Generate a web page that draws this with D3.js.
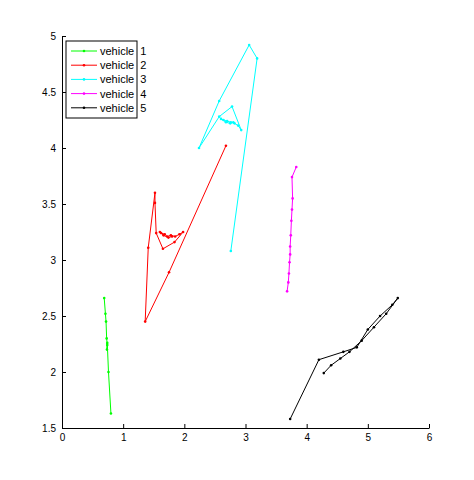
<!DOCTYPE html><html><head><script src="https://cdn.jsdelivr.net/npm/d3@7"></script>
<style>body{margin:0;background:#fff}text{font-family:"Liberation Sans",Arial,sans-serif;white-space:pre}</style></head><body>
<script>
const names=["vehicle  1","vehicle  2","vehicle  3","vehicle  4","vehicle  5"];
const colors=["#00ff00","#ff0000","#00ffff","#ff00ff","#000000"];
const v1=[[0.69,2.66],[0.71,2.52],[0.72,2.45],[0.73,2.30],[0.74,2.24],[0.735,2.20],[0.74,2.26],[0.76,2.0],[0.80,1.63]];
const v2=[[2.68,4.02],[1.75,2.89],[1.36,2.45],[1.41,3.11],[1.52,3.60],[1.52,3.51],[1.54,3.24],[1.65,3.10],[1.84,3.16],[1.98,3.25],[1.92,3.23],[1.85,3.21],[1.78,3.22],[1.72,3.21],[1.68,3.23],[1.62,3.24],[1.60,3.25],[1.66,3.22],[1.74,3.20],[1.80,3.21]];
const v3=[[2.76,3.08],[3.19,4.80],[3.06,4.92],[2.57,4.42],[2.24,4.00],[2.57,4.28],[2.78,4.37],[2.93,4.16],[2.88,4.20],[2.82,4.22],[2.76,4.23],[2.70,4.24],[2.64,4.25],[2.60,4.26],[2.68,4.23],[2.75,4.22],[2.80,4.23]];
const v4=[[3.83,3.83],[3.76,3.74],[3.77,3.55],[3.76,3.45],[3.75,3.35],[3.74,3.22],[3.73,3.12],[3.73,3.05],[3.72,2.98],[3.71,2.88],[3.70,2.80],[3.68,2.72]];
const v5=[[3.73,1.58],[4.20,2.11],[4.60,2.18],[4.82,2.22],[5.00,2.38],[5.20,2.50],[5.40,2.60],[5.49,2.66],[5.30,2.52],[5.10,2.40],[4.90,2.28],[4.70,2.18],[4.55,2.12],[4.40,2.06],[4.28,1.99]];
const series=[v1,v2,v3,v4,v5];
const xTicks=[0,1,2,3,4,5,6], yTicks=[1.5,2,2.5,3,3.5,4,4.5,5];
const W=474,H=480,L=62,R=429,T=36,B=428;
const svg=d3.select("body").append("svg").attr("width",W).attr("height",H);
const x=d3.scaleLinear().domain([0,6]).range([L,R]);
const y=d3.scaleLinear().domain([1.5,5]).range([B,T]);
svg.append("g").attr("transform",`translate(0,${B})`).call(d3.axisBottom(x).tickValues(xTicks).tickFormat(d3.format("")).tickSizeInner(-4).tickSizeOuter(0).tickPadding(6)).call(g=>g.selectAll("text").attr("font-size",10));
svg.append("g").attr("transform",`translate(${L},0)`).call(d3.axisLeft(y).tickValues(yTicks).tickFormat(d3.format("")).tickSizeInner(-4).tickSizeOuter(0).tickPadding(6)).call(g=>g.selectAll("text").attr("font-size",10));
const line=d3.line().x(d=>x(d[0])).y(d=>y(d[1]));
series.forEach((s,i)=>{
 svg.append("path").attr("d",line(s)).attr("fill","none").attr("stroke",colors[i]).attr("stroke-width",1);
 svg.append("g").selectAll("circle").data(s).join("circle").attr("cx",d=>x(d[0])).attr("cy",d=>y(d[1])).attr("r",1.3).attr("fill",colors[i]);
});
const lg=svg.append("g").attr("transform","translate(66,41)");
lg.append("rect").attr("width",71).attr("height",77).attr("fill","#fff").attr("stroke","#000");
names.forEach((n,i)=>{
 const yy=10+i*14.2;
 lg.append("line").attr("x1",5).attr("x2",31).attr("y1",yy).attr("y2",yy).attr("stroke",colors[i]);
 lg.append("circle").attr("cx",18).attr("cy",yy).attr("r",1.3).attr("fill",colors[i]);
 lg.append("text").attr("x",34).attr("y",yy+4).attr("font-size",11).text(n);
});
</script></body></html>
